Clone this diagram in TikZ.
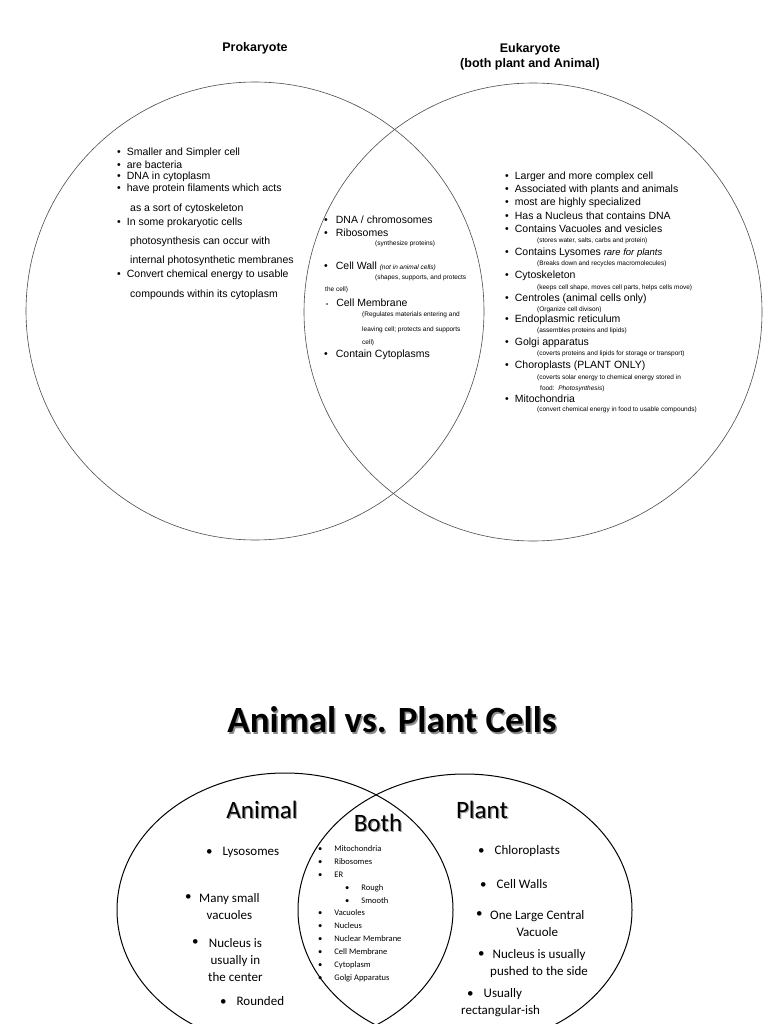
\documentclass[tikz,border=0pt]{standalone}
\usepackage{fontspec}
\setmainfont{Liberation Sans}
\newfontfamily\calfont{Carlito}
\begin{document}
\begin{tikzpicture}[x=1pt,y=-1pt,
  t/.style={anchor=west,inner sep=0pt,font=\fontsize{10.5}{12}\selectfont},
  s/.style={anchor=west,inner sep=0pt,font=\fontsize{6.5}{8}\selectfont},
  hd/.style={inner sep=0pt,font=\fontsize{12.5}{15}\selectfont\bfseries},
  c/.style={anchor=west,inner sep=0pt,font=\calfont\fontsize{13}{17}\selectfont,align=center},
  cs/.style={anchor=west,inner sep=0pt,font=\calfont\fontsize{8.5}{10}\selectfont},
  ch/.style={inner sep=0pt,font=\calfont\fontsize{25}{28}\selectfont}]
\useasboundingbox (0,0) rectangle (768,1024);
\fill[white] (0,0) rectangle (768,1024);
% top venn
\draw[black!70,line width=0.6pt] (255,311) circle (229);
\draw[black!70,line width=0.6pt] (533,312) circle (229);
\node[hd] (prok) at (255,48) {Prokaryote};
\node[hd,align=center] (euk) at (530,57) {Eukaryote\\(both plant and Animal)};
% left list
\foreach \y/\tx in {153/Smaller and Simpler cell,165/are bacteria,177/DNA in cytoplasm,189/have protein filaments which acts,223/In some prokaryotic cells,275/Convert chemical energy to usable}
  \node[t] at (117,\y) {•\hspace{6pt}\tx};
\node[t] (l1) at (130,209) {as a sort of cytoskeleton};
\node[t] (l2) at (130,242) {photosynthesis can occur with};
\node[t] (l3) at (130,261) {internal photosynthetic membranes};
\node[t] (l4) at (130,295) {compounds within its cytoplasm};
% centre list
\node[t] (m1) at (324,220) {•\hspace{8pt}DNA / chromosomes};
\node[t] (m2) at (324,233) {•\hspace{8pt}Ribosomes};
\node[s] (m3) at (375,244) {(synthesize proteins)};
\node[t] (m4) at (324,266) {•\hspace{8pt}Cell Wall \fontsize{6.5}{8}\selectfont\itshape(not in animal cells)};
\node[s] (m5) at (375,278) {(shapes, supports, and protects};
\node[s] (m6) at (325,290) {the cell)};
\node[t] (m7) at (326,303) {\fontsize{6}{8}\selectfont•\hspace{8pt}\fontsize{10.5}{12}\selectfont Cell Membrane};
\node[s] (m8) at (362,315) {(Regulates materials entering and};
\node[s] (m9) at (362,330) {leaving cell; protects and supports};
\node[s] (m10) at (362,343) {cell)};
\node[t] (m11) at (324,355) {•\hspace{8pt}Contain Cytoplasms};
% right list
\foreach \y/\tx in {177/Larger and more complex cell,190/Associated with plants and animals,203/most are highly specialized,216/Has a Nucleus that contains DNA,229/Contains Vacuoles and vesicles,253/Contains Lysomes \textit{\fontsize{9.5}{11}\selectfont rare for plants},276/Cytoskeleton,299/Centroles (animal cells only),320/Endoplasmic reticulum,343/Golgi apparatus,366/Choroplasts (PLANT ONLY),399/Mitochondria}
  \node[t] at (505,\y) {•\hspace{6pt}\tx};
\foreach \y/\tx in {241/{(stores water, salts, carbs and protein)},264/(Breaks down and recycles macromolecules),288/{(keeps cell shape, moves cell parts, helps cells move)},310/(Organize cell divison),331/(assembles proteins and lipids),354/(coverts proteins and lipids for storage or transport),378/(coverts solar energy to chemical energy stored in,410/(convert chemical energy in food to usable compounds)}
  \node[s] at (537,\y) {\tx};
\node[s] (food) at (540,389) {food:\ \ \textit{Photosynthesis})};
% bottom
\node[inner sep=0pt,font=\calfont\fontsize{37}{40}\selectfont\bfseries,text=black!45] at (393.5,721.5) {Animal vs. Plant Cells};
\node[inner sep=0pt,font=\calfont\fontsize{37}{40}\selectfont\bfseries] (title) at (392,720) {Animal vs. Plant Cells};
\draw[line width=1pt] (285,910) ellipse (168 and 137);
\draw[line width=1pt] (465,910) ellipse (167 and 136);
\node[ch,text=black!40] at (263.2,811.2) {Animal};
\node[ch,text=black!40] at (379.2,824.2) {Both};
\node[ch,text=black!40] at (483.2,811.2) {Plant};
\node[ch] (an) at (262,810) {Animal};
\node[ch] (bo) at (378,823) {Both};
\node[ch] (pl) at (482,810) {Plant};
\node[c] at (206,852) {•\hspace{10pt}Lysosomes};
\node[c] at (185,898) {•}; \node[c] at (199,907) {Many small\\vacuoles};
\node[c] at (192,943) {•}; \node[c] at (208,960) {Nucleus is\\usually in\\the center};
\node[c] at (220,1001) {•\hspace{10pt}Rounded};
\foreach \y/\tx in {849/Mitochondria,862/Ribosomes,875/ER,913/Vacuoles,926/Nucleus,939/Nuclear Membrane,952/Cell Membrane,965/Cytoplasm,978/Golgi Apparatus}
  \node[cs] at (318,\y) {•\hspace{12pt}\tx};
\node[cs] at (345,888) {•\hspace{12pt}Rough};
\node[cs] at (345,901) {•\hspace{12pt}Smooth};
\node[c] at (478,851) {•\hspace{10pt}Chloroplasts};
\node[c] at (480,884) {•\hspace{10pt}Cell Walls};
\node[c] at (476,915) {•}; \node[c] at (490,923.5) {One Large Central\\Vacuole};
\node[c] at (478,955) {•}; \node[c] at (490,963.5) {Nucleus is usually\\pushed to the side};
\node[c] at (467,994) {•\hspace{10pt}Usually};
\node[c] at (461,1011) {rectangular-ish};
\end{tikzpicture}
\end{document}
